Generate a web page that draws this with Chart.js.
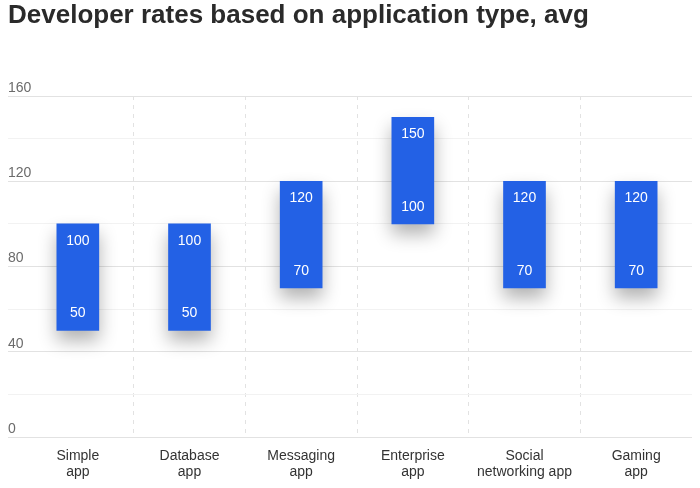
<!DOCTYPE html>
<html>
<head>
<meta charset="utf-8">
<script src="https://cdn.jsdelivr.net/npm/chart.js@4.4.0/dist/chart.umd.min.js"></script>
<style>
  html, body { margin: 0; padding: 0; background: #fff; }
  #wrap { position: relative; width: 700px; height: 488px; }
</style>
</head>
<body>
<div id="wrap"><canvas id="myChart"></canvas></div>
<script>
const appTypes = [
  ['Simple', 'app'],
  ['Database', 'app'],
  ['Messaging', 'app'],
  ['Enterprise', 'app'],
  ['Social', 'networking app'],
  ['Gaming', 'app']
];
const lowRates = [50, 50, 70, 100, 70, 70];
const highRates = [100, 100, 120, 150, 120, 120];
const yLabels = [0, 40, 80, 120, 160];

const barColor = '#2361e5';

// soft drop shadow under the bars
const barShadow = {
  id: 'barShadow',
  beforeDatasetsDraw(chart) {
    const c = chart.ctx;
    c.save();
    c.shadowColor = 'rgba(0, 0, 0, 0.3)';
    c.shadowBlur = 18;
    c.shadowOffsetY = 10;
  },
  afterDatasetsDraw(chart) {
    chart.ctx.restore();
    // value labels inside each bar
    const c = chart.ctx;
    const meta = chart.getDatasetMeta(0);
    c.save();
    c.fillStyle = '#ffffff';
    c.font = '14px "Liberation Sans", Arial, sans-serif';
    c.textAlign = 'center';
    c.textBaseline = 'middle';
    meta.data.forEach((bar, i) => {
      c.fillText(String(highRates[i]), bar.x, bar.y + 17);
      c.fillText(String(lowRates[i]), bar.x, bar.base - 17);
    });
    c.restore();
  }
};

// y labels sit just above their grid line, at the far left
const yTickLabels = {
  id: 'yTickLabels',
  afterDraw(chart) {
    const c = chart.ctx;
    const y = chart.scales.y;
    c.save();
    c.fillStyle = '#6b6b6b';
    c.font = '14px "Liberation Sans", Arial, sans-serif';
    c.textAlign = 'left';
    c.textBaseline = 'middle';
    yLabels.forEach(v => {
      c.fillText(String(v), 8, y.getPixelForValue(v) - 8);
    });
    c.restore();
  }
};

const ctx = document.getElementById('myChart');
new Chart(ctx, {
  type: 'bar',
  data: {
    labels: appTypes,
    datasets: [{
      label: 'Rate',
      data: lowRates.map((v, i) => [v, highRates[i]]),
      backgroundColor: barColor,
      borderWidth: 0,
      borderSkipped: false,
      barThickness: 42
    }]
  },
  options: {
    responsive: true,
    maintainAspectRatio: false,
    animation: false,
    layout: { padding: { left: 8, right: 8, top: 0, bottom: 0 } },
    plugins: {
      legend: { display: false },
      tooltip: { enabled: false },
      title: {
        display: true,
        text: 'Developer rates based on application type, avg',
        align: 'start',
        color: '#2a2a2a',
        font: { family: '"Liberation Sans", Arial, sans-serif', size: 26, weight: 'bold', lineHeight: 1.2 },
        padding: { top: 0, bottom: 64.8 }
      }
    },
    scales: {
      x: {
        offset: true,
        afterFit(scale) { scale.height = 51; },
        grid: {
          offset: true,
          drawTicks: false,
          lineWidth: 1,
          color: c => (c.type !== 'tick' || c.index === 0) ? 'rgba(0,0,0,0)' : '#e2e2e2'
        },
        border: { display: false, dash: [4, 5] },
        ticks: {
          color: '#333333',
          padding: 11,
          maxRotation: 0,
          autoSkip: false,
          font: { family: '"Liberation Sans", Arial, sans-serif', size: 14, lineHeight: 1.15 }
        }
      },
      y: {
        min: 0,
        max: 160,
        afterFit(scale) { scale.width = 14; },
        ticks: { stepSize: 20, display: false },
        grid: {
          drawTicks: true,
          tickLength: 14,
          color: c => (c.tick && c.tick.value % 40 === 0) ? '#e2e2e2' : '#f2f2f2',
          tickColor: c => (c.tick && c.tick.value % 40 === 0) ? '#e2e2e2' : '#f2f2f2'
        },
        border: { display: false }
      }
    }
  },
  plugins: [barShadow, yTickLabels]
});
</script>
</body>
</html>
